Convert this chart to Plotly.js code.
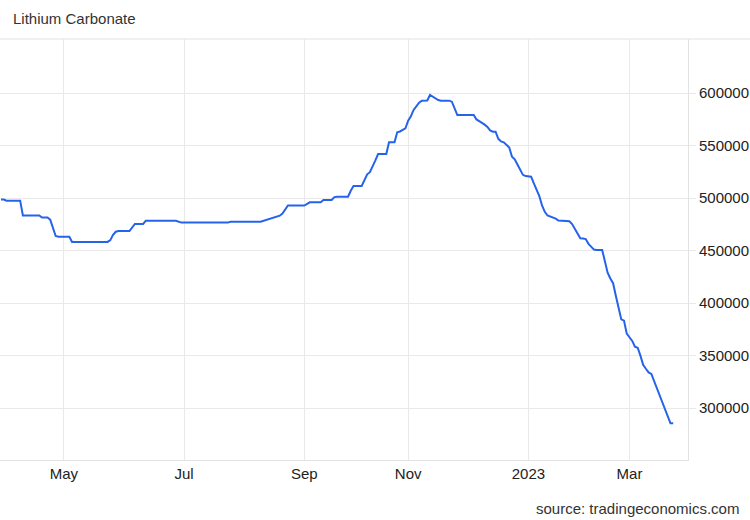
<!DOCTYPE html>
<html>
<head>
<meta charset="utf-8">
<script src="https://cdn.plot.ly/plotly-3.0.1.min.js"></script>
<style>html,body{margin:0;padding:0;background:#fff;}#chart{width:750px;height:520px;}</style>
</head>
<body>
<div id="chart"></div>
<script>
// Lithium Carbonate price (CNY/T), trading days
const dates = [
"2022-03-30","2022-03-31","2022-04-01","2022-04-08","2022-04-11","2022-04-19","2022-04-20","2022-04-22",
"2022-04-25","2022-04-26","2022-04-27","2022-04-28","2022-05-04","2022-05-05","2022-05-24","2022-05-25",
"2022-05-26","2022-05-27","2022-05-30","2022-06-03","2022-06-06","2022-06-07","2022-06-10","2022-06-13",
"2022-06-28","2022-06-29","2022-06-30","2022-07-25","2022-07-26","2022-08-10","2022-08-12","2022-08-17",
"2022-08-18","2022-08-19","2022-08-22","2022-08-23","2022-08-24","2022-09-01","2022-09-02","2022-09-05",
"2022-09-09","2022-09-12","2022-09-15","2022-09-16","2022-09-19","2022-09-23","2022-09-26","2022-09-27",
"2022-09-30","2022-10-10","2022-10-11","2022-10-12","2022-10-13","2022-10-14","2022-10-17","2022-10-20",
"2022-10-21","2022-10-25","2022-10-26","2022-10-27","2022-10-28","2022-10-31","2022-11-01","2022-11-02",
"2022-11-03","2022-11-04","2022-11-07","2022-11-08","2022-11-10","2022-11-11","2022-11-14","2022-11-15",
"2022-11-16","2022-11-17","2022-11-22","2022-11-23","2022-11-24","2022-11-25","2022-12-05","2022-12-06",
"2022-12-07","2022-12-08","2022-12-09","2022-12-12","2022-12-13","2022-12-14","2022-12-15","2022-12-16",
"2022-12-19","2022-12-20","2022-12-21","2022-12-22","2022-12-23","2022-12-26","2022-12-27","2022-12-28",
"2022-12-29","2022-12-30","2023-01-02","2023-01-03","2023-01-04","2023-01-05","2023-01-06","2023-01-09",
"2023-01-10","2023-01-11","2023-01-12","2023-01-13","2023-01-16","2023-01-17","2023-01-20","2023-01-30",
"2023-01-31","2023-02-01","2023-02-02","2023-02-03","2023-02-06","2023-02-07","2023-02-08","2023-02-09",
"2023-02-10","2023-02-13","2023-02-15","2023-02-16","2023-02-17","2023-02-20","2023-02-21","2023-02-22",
"2023-02-23","2023-02-24","2023-02-27","2023-02-28","2023-03-01","2023-03-02","2023-03-03","2023-03-06",
"2023-03-07","2023-03-08","2023-03-09","2023-03-10","2023-03-13","2023-03-14","2023-03-15","2023-03-16",
"2023-03-17","2023-03-20","2023-03-21","2023-03-22","2023-03-23"
];
const prices = [
498700,498700,497600,497600,483500,483500,481500,481500,
479500,472000,464000,463300,463300,458300,458300,460000,
465000,468000,468700,468700,472500,475400,475400,478500,
478500,477500,476700,476700,477600,477600,479200,481000,
482000,483300,485400,489700,493000,493000,494500,496000,
496000,498200,498200,501000,501400,501400,507000,511600,
511600,517000,522700,524700,529700,536000,542000,542000,
553200,553200,562800,563500,565000,566600,573800,578000,
584000,588000,591000,592900,593000,598300,596500,594500,
593500,592900,592900,591900,586000,579200,579200,575000,
573300,572000,570000,567800,564500,563300,563300,556500,
554000,553200,550800,548300,539500,537000,532000,527000,
522200,521000,520500,520400,514000,508000,502000,493000,
487000,483500,482600,481500,480500,478700,478700,478000,
475300,470500,466000,461700,461500,461000,456500,453500,
451000,450700,450600,440000,429000,423500,419000,407000,
396000,384500,383300,371000,367500,364000,358500,357500,
350000,341200,337500,334000,332600,326000,320000,313500,
306500,299500,292500,285600,285600
];
// Market closures (long holidays) removed from the time axis
const holidays = ["2022-10-03","2022-10-04","2022-10-05","2022-10-06","2022-10-07",
                  "2023-01-23","2023-01-24","2023-01-25","2023-01-26","2023-01-27"];
const tickVals = ["2022-05-02","2022-07-01","2022-09-01","2022-11-01","2023-01-02","2023-03-01"];
const tickText = ["May","Jul","Sep","Nov","2023","Mar"];
const yTicks = [300000,350000,400000,450000,500000,550000,600000];

const gridC = "#e9e9e9";
const fontFam = "'Liberation Sans', Arial, sans-serif";

const trace = {
  x: dates, y: prices, type: "scatter", mode: "lines",
  line: {color: "#2563eb", width: 2},
  hoverinfo: "skip"
};

const layout = {
  width: 750, height: 520,
  margin: {l: 0, r: 62, t: 39, b: 60},
  paper_bgcolor: "#fff", plot_bgcolor: "#fff",
  showlegend: false,
  font: {family: fontFam, size: 15, color: "#222"},
  title: {text: "Lithium Carbonate", xref: "container", yref: "container",
          x: 13/750, xanchor: "left", y: 1 - 19/520, yanchor: "middle",
          font: {family: fontFam, size: 15, color: "#333"}},
  xaxis: {
    type: "date",
    range: ["2022-03-29 15:00", "2023-03-30 10:00"],
    rangebreaks: [{bounds: ["sat", "mon"]}, {values: holidays}],
    tickmode: "array", tickvals: tickVals, ticktext: tickText,
    showgrid: true, gridcolor: gridC, gridwidth: 1,
    showline: true, linecolor: "#e2e2e2", linewidth: 1,
    zeroline: false, ticks: "",
    tickfont: {family: fontFam, size: 15, color: "#222"}
  },
  yaxis: {
    side: "right",
    range: [250600, 651600],
    tickmode: "array", tickvals: yTicks, tickformat: "d",
    showgrid: true, gridcolor: gridC, gridwidth: 1,
    showline: true, linecolor: "#e2e2e2", linewidth: 1,
    zeroline: false, ticks: "outside", ticklen: 7, tickcolor: gridC,
    tickfont: {family: fontFam, size: 15, color: "#222"}
  },
  shapes: [
    {type: "line", xref: "paper", yref: "paper", x0: 0, x1: 750/688, y0: 1, y1: 1,
     line: {color: "#e2e2e2", width: 1}}
  ],
  annotations: [
    {text: "source: tradingeconomics.com", xref: "paper", yref: "paper",
     x: 741/688, xanchor: "right", y: -48/421, yanchor: "middle", showarrow: false,
     font: {family: fontFam, size: 15, color: "#333"}}
  ]
};

Plotly.newPlot("chart", [trace], layout, {staticPlot: true, displayModeBar: false});
</script>
</body>
</html>
